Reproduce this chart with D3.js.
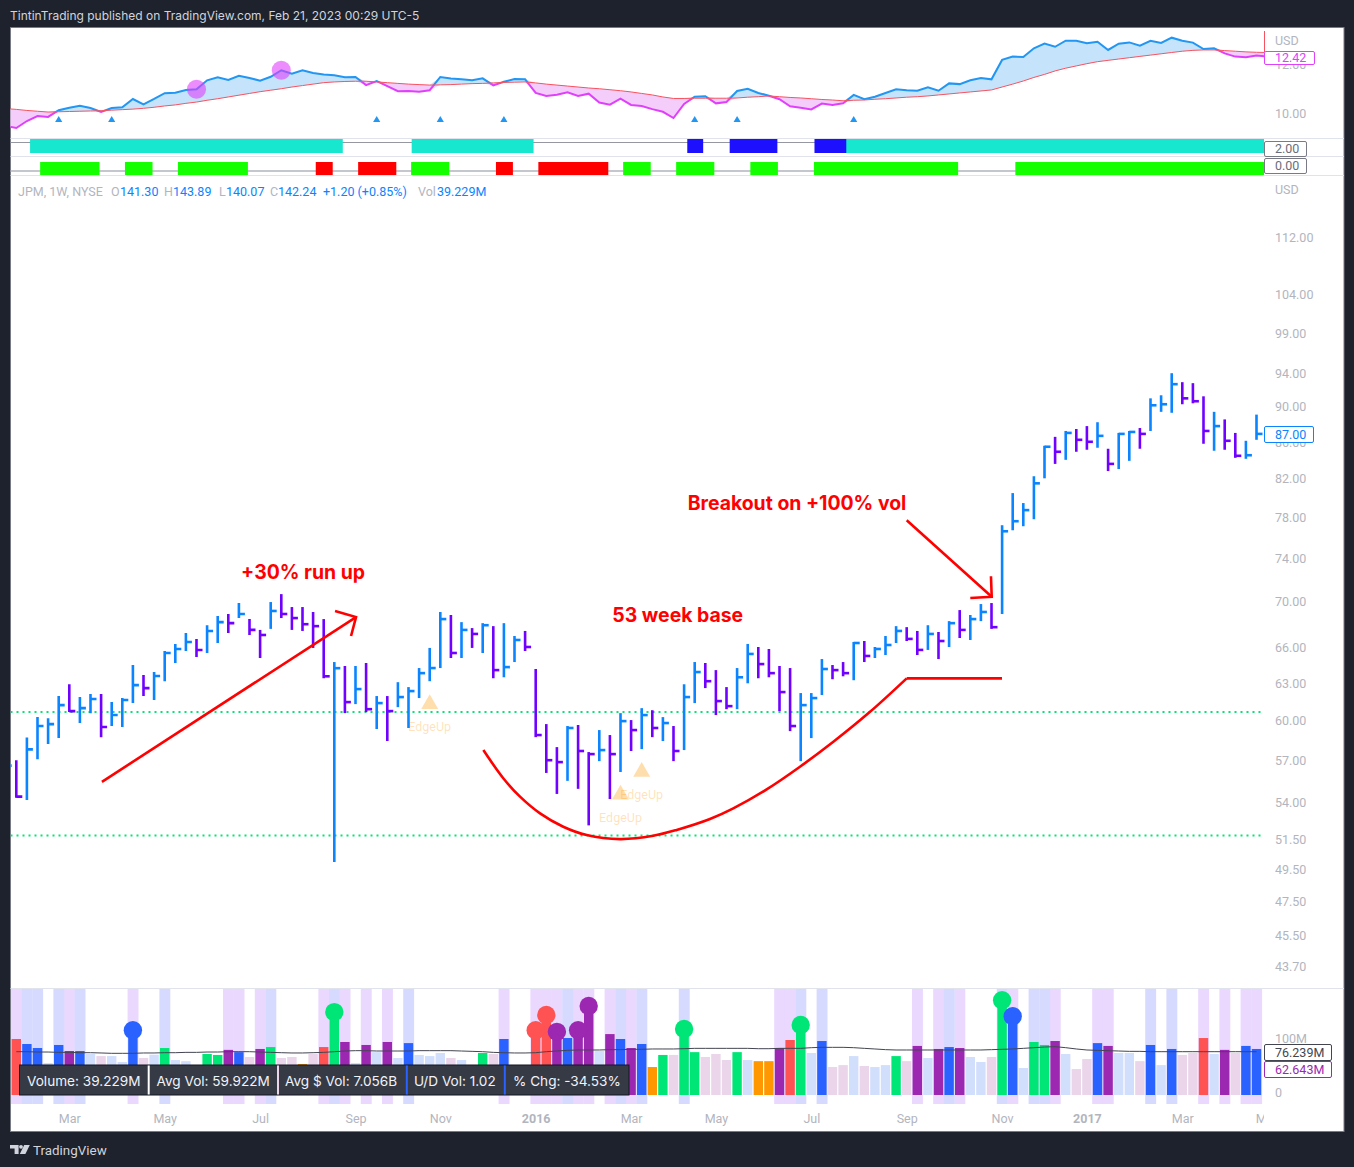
<!DOCTYPE html>
<html>
<head>
<meta charset="utf-8">
<script src="https://cdn.jsdelivr.net/npm/d3@7"></script>
<style>
  html, body { margin: 0; padding: 0; background: #1e222d; }
  svg { display: block; }
  text { font-family: Roboto, "Liberation Sans", sans-serif; }
  .axis .domain { display: none; }
  .axis line { display: none; }
  .axis text { fill: #b2b5be; font-size: 12.5px; font-family: Roboto, sans-serif; }
</style>
</head>
<body>
<svg id="chart" width="1354" height="1167"></svg>
<script>
// weekly bars, first entry is week -1 (clipped at the left edge)
const barHigh = [58.1, 57.0, 58.7, 60.26, 60.18, 61.92, 62.87, 61.84, 62.08, 62.08, 61.44, 61.76, 64.45, 63.62, 63.87, 65.63, 66.23, 67.17, 66.66, 67.85, 68.66, 68.84, 69.82, 68.39, 67.44, 69.91, 70.63, 69.46, 69.46, 69.02, 68.39, 64.7, 64.37, 64.37, 64.62, 61.92, 61.92, 63.04, 62.64, 64.2, 65.89, 69.02, 68.75, 68.12, 67.6, 68.03, 67.77, 68.03, 66.91, 67.35, 64.12, 59.72, 57.97, 59.57, 59.65, 57.6, 59.26, 58.88, 60.57, 60.03, 60.96, 60.8, 60.26, 59.57, 62.87, 64.7, 64.62, 64.03, 62.64, 64.2, 66.23, 65.97, 65.8, 64.37, 64.2, 62.16, 62.16, 64.95, 64.45, 64.7, 66.4, 66.48, 65.97, 66.91, 67.77, 67.68, 67.35, 67.85, 67.26, 68.21, 69.19, 68.75, 69.73, 69.82, 77.2, 80.47, 79.44, 82.24, 85.54, 86.53, 87.19, 87.41, 87.74, 88.18, 85.21, 86.97, 87.19, 87.52, 90.94, 91.3, 93.94, 92.86, 92.74, 91.18, 89.37, 88.5, 86.97, 86.09, 89.05];
const barLow = [55.57, 54.3, 54.14, 57.07, 58.2, 58.65, 60.65, 59.8, 60.57, 58.72, 59.57, 59.49, 61.36, 61.92, 61.6, 63.12, 64.62, 65.63, 65.12, 65.46, 66.31, 67.17, 68.48, 67.0, 65.04, 67.53, 68.48, 67.44, 67.35, 65.89, 63.36, 49.98, 60.57, 61.28, 60.65, 59.34, 58.43, 61.04, 59.42, 61.76, 63.12, 64.2, 65.04, 65.04, 65.89, 65.46, 63.36, 63.44, 64.7, 65.63, 58.72, 56.07, 54.57, 55.5, 54.93, 52.4, 56.93, 54.21, 56.14, 57.68, 57.82, 58.72, 58.43, 56.93, 57.75, 61.36, 62.56, 60.42, 60.88, 60.88, 62.95, 63.36, 63.44, 60.73, 59.18, 56.93, 58.65, 62.0, 63.28, 63.52, 63.2, 64.7, 65.04, 65.29, 66.31, 66.48, 65.29, 65.72, 64.95, 65.97, 66.74, 66.57, 68.21, 67.53, 68.84, 76.7, 77.1, 77.8, 82.02, 83.56, 84.0, 84.88, 85.1, 85.32, 82.79, 83.01, 83.89, 85.21, 87.19, 89.37, 89.26, 90.25, 90.36, 85.76, 84.99, 85.1, 84.22, 84.11, 86.2];
const barClose = [56.6, 54.38, 57.8, 59.57, 59.72, 61.2, 60.73, 60.96, 61.68, 59.49, 60.42, 61.6, 62.8, 62.56, 63.54, 65.46, 65.8, 66.4, 65.72, 67.35, 68.12, 68.03, 68.84, 67.44, 67.0, 69.11, 68.84, 68.48, 67.94, 67.77, 63.52, 64.19, 61.44, 62.48, 60.88, 61.36, 60.73, 61.84, 62.32, 63.78, 64.2, 68.39, 65.46, 67.44, 67.09, 67.85, 64.03, 64.28, 66.57, 65.97, 58.88, 57.0, 56.86, 59.42, 57.68, 57.45, 57.75, 57.45, 59.95, 59.26, 60.42, 59.42, 59.8, 57.68, 61.84, 63.87, 63.12, 61.52, 61.12, 63.44, 65.38, 64.53, 63.78, 62.24, 59.57, 61.2, 61.76, 64.12, 64.03, 63.78, 66.31, 65.21, 65.8, 66.14, 67.35, 66.66, 65.72, 67.09, 66.48, 68.03, 67.44, 68.39, 69.02, 67.68, 76.6, 77.6, 78.72, 81.49, 85.43, 84.88, 86.97, 86.2, 85.98, 86.64, 83.56, 86.86, 87.08, 86.86, 90.13, 90.25, 92.62, 90.94, 90.6, 87.19, 87.74, 86.09, 84.44, 84.5, 86.86];

const priceTicks = [112, 104, 99, 94, 90, 86, 82, 78, 74, 70, 66, 63, 60, 57, 54, 51.5, 49.5, 47.5, 45.5, 43.7];
const supportLevels = [60.65, 51.72];

// top indicator, first entry is week -1, last one runs off the right edge
const rsLine = [9.6, 9.53, 9.78, 9.96, 9.93, 10.18, 10.27, 10.35, 10.26, 10.11, 10.26, 10.29, 10.61, 10.4, 10.61, 10.84, 10.86, 10.97, 11.0, 11.37, 11.5, 11.38, 11.56, 11.47, 11.35, 11.52, 11.8, 11.65, 11.8, 11.68, 11.62, 11.58, 11.5, 11.51, 11.17, 11.34, 11.13, 10.92, 10.93, 10.9, 10.96, 11.51, 11.45, 11.41, 11.37, 11.45, 11.16, 11.31, 11.42, 11.41, 10.85, 10.73, 10.78, 10.88, 10.73, 10.82, 10.47, 10.39, 10.62, 10.38, 10.34, 10.22, 10.12, 9.89, 10.42, 10.7, 10.72, 10.44, 10.49, 10.93, 11.02, 10.85, 10.74, 10.6, 10.33, 10.27, 10.21, 10.43, 10.38, 10.44, 10.77, 10.6, 10.7, 10.85, 11.0, 10.96, 10.94, 11.08, 10.94, 11.24, 11.21, 11.37, 11.47, 11.41, 12.26, 12.41, 12.39, 12.8, 13.02, 12.87, 13.16, 13.16, 13.04, 13.11, 12.72, 13.02, 13.08, 12.92, 13.16, 13.05, 13.31, 13.16, 13.07, 12.76, 12.8, 12.56, 12.41, 12.38, 12.46, 12.42];
const rsAverage = [10.24, 10.21, 10.17, 10.14, 10.11, 10.12, 10.13, 10.14, 10.15, 10.16, 10.18, 10.2, 10.22, 10.25, 10.29, 10.34, 10.38, 10.44, 10.49, 10.56, 10.62, 10.69, 10.76, 10.83, 10.9, 10.96, 11.02, 11.09, 11.15, 11.21, 11.27, 11.3, 11.32, 11.33, 11.33, 11.3, 11.27, 11.24, 11.21, 11.19, 11.17, 11.18, 11.19, 11.21, 11.23, 11.24, 11.26, 11.28, 11.29, 11.3, 11.26, 11.21, 11.17, 11.13, 11.09, 11.05, 11.02, 10.98, 10.94, 10.89, 10.83, 10.77, 10.69, 10.63, 10.63, 10.64, 10.64, 10.64, 10.64, 10.65, 10.68, 10.7, 10.73, 10.7, 10.67, 10.65, 10.62, 10.59, 10.57, 10.54, 10.56, 10.57, 10.6, 10.62, 10.65, 10.68, 10.7, 10.73, 10.77, 10.81, 10.85, 10.89, 10.93, 10.97, 11.09, 11.21, 11.34, 11.49, 11.62, 11.77, 11.89, 11.99, 12.09, 12.18, 12.24, 12.3, 12.36, 12.42, 12.48, 12.54, 12.6, 12.66, 12.7, 12.72, 12.72, 12.69, 12.66, 12.63, 12.61, 12.6];
const rsHighWeeks = [17, 25];
const pocketWeeks = [4, 9, 34, 40, 46, 64, 68, 79];

// strips, [first week, last week]
const tealSpans = [[2, 31], [38, 49], [79, 118]];
const blueSpans = [[64, 65], [68, 72], [76, 79]];
const greenSpans = [[3, 8], [11, 13], [16, 22], [38, 41], [58, 60], [63, 66], [70, 72], [76, 89], [95, 118]];
const redSpans = [[29, 30], [33, 36], [46, 47], [50, 56]];

// volume in millions, starts at week 0
const volume = [99.3, 90.4, 83.3, 56.7, 88.7, 78, 78, 72.7, 69, 69, 58.5, 115, 65.6, 71.5, 83.3, 62, 60, 45, 72.7, 71, 80, 76, 67.4, 81.6, 85, 65.6, 67.4, 55, 72.7, 85, 147, 94, 56.7, 88.7, 76, 94, 65.6, 92, 71, 69, 74.5, 65.6, 62, 45, 74.5, 72.7, 99.3, 45, 45, 115, 142, 112, 101, 115, 158, 78, 108, 99.3, 83.3, 90.4, 49.6, 71, 71, 117, 76, 67.4, 72.7, 62, 76, 62, 60, 60, 83.3, 97.5, 124, 74.5, 95.7, 49.6, 53, 69, 51.4, 49.6, 53, 69, 60, 87, 65.6, 81.6, 85, 83.3, 67.4, 58.5, 67.4, 168, 139.5, 47.9, 94, 88.7, 95.7, 72.7, 46, 63.8, 92, 87, 74.5, 74.5, 60, 88.7, 53, 81.6, 71, 74.5, 101, 72.7, 80, 74.5, 87, 81.6];
// r red, b blue, g green, p purple, o orange, l light blue, m light purple
const volumeKind = ("rbblbpblml" + "lbmlglllgg" + "pbmpgmmomr" + "gplplplbll" + "lmlmgmbllr" + "rpbpplpbpb" + "ogmggmmmgl" + "ooprglbmml" + "mllgmplpbp" + "llmgblggpl" + "mmbpllmblb" + "mmrlpmbb").split("");
const volumeAverage = [76.8, 76.8, 76.2, 76.2, 75.6, 75.6, 75, 75, 74.5, 73.9, 73.9, 73.9, 74.5, 74.5, 75, 75, 75.6, 75.6, 76.2, 76.2, 76.8, 76.8, 76.8, 76.2, 75.6, 75, 74.5, 74.5, 75, 75.6, 76.8, 78, 78.6, 78.6, 78, 78, 78, 78, 78.6, 78.6, 78.6, 78.6, 78, 77.4, 76.8, 75.6, 75, 74.5, 74.5, 75, 76.8, 78, 79.2, 79.8, 79.8, 79.8, 80.4, 80.4, 81, 81, 81.6, 81.6, 81.6, 82.1, 82.7, 82.7, 82.7, 82.7, 82.7, 82.7, 82.1, 82.1, 82.7, 82.7, 82.7, 83.9, 84.5, 84.5, 84.5, 83.9, 82.7, 81.6, 80.4, 79.8, 79.8, 79.8, 79.8, 79.8, 79.8, 79.8, 79.8, 79.8, 80.4, 81, 81.6, 82.7, 83.9, 85.1, 85.7, 83.9, 81.6, 79.8, 79.2, 78.6, 78, 77.4, 77.4, 76.8, 76.8, 76.8, 76.8, 76.8, 76.8, 76.8, 76.8, 76.8, 76.8, 76.8];
const purpleWeeks = [0, 5, 11, 20, 21, 23, 29, 31, 33, 35, 46, 49, 50, 51, 53, 54, 56, 58, 72, 73, 85, 87, 89, 94, 98, 102, 103, 112, 114, 116, 117];
const blueWeeks = [1, 2, 4, 6, 14, 24, 30, 37, 52, 57, 59, 63, 74, 76, 88, 93, 96, 97, 107, 109];
const volumeTicks = [100, 0];

const monthWeeks = [5, 14, 23, 32, 40, 49, 58, 66, 75, 84, 93, 101, 110, 118];
const monthLabels = ["Mar", "May", "Jul", "Sep", "Nov", "2016", "Mar", "May", "Jul", "Sep", "Nov", "2017", "Mar", "May"];

// drawn lines on the chart, [week, price]
const runUpLine = [[8.08, 55.43], [32.05, 68.57]];
const runUpHead = [[30.07, 69.11], [32.05, 68.57], [31.58, 66.91]];
const breakoutLine = [[84, 77.7], [92.02, 70.39]];
const breakoutHead = [[90, 70.27], [92.02, 70.39], [91.95, 72.28]];
const cupLine = [[44.06, 57.75], [45.94, 55.69], [47.52, 54.38], [49.41, 53.22], [51.6, 52.31], [53.81, 51.75], [56.95, 51.48], [60.09, 51.7], [62.3, 52.09], [65.44, 52.83], [67.64, 53.56], [70.79, 54.89], [73.93, 56.52], [77.08, 58.37], [80.54, 60.67], [84, 63.35]];
const handleLine = [[84, 63.35], [92.99, 63.35]];
const edgeUpMarks = [[39, 61.28], [59, 56.15], [57, 54.52]];
const notes = [["+30% run up", 27.05, 72.02], ["53 week base", 62.4, 68.13], ["Breakout on +100% vol", 73.65, 78.73]];

const infoItems = ["Volume: 39.229M", "Avg Vol: 59.922M", "Avg $ Vol: 7.056B", "U/D Vol: 1.02", "% Chg: -34.53%"];

const blue = "#0a84ff", purple = "#7000ff", annot = "#ff0000";
const kindColor = { r: "#ff5252", b: "#2962ff", g: "#00e676", p: "#9c27b0", o: "#ff9800", l: "#d1dffd", m: "#ead5ea" };

const svg = d3.select("#chart");
const weeks = d3.range(-1, 118);
const rsWeeks = d3.range(-1, 119);

const x = d3.scaleLinear().domain([0, 117]).range([16.3, 1256.5]);
const y = d3.scaleLog().domain([43.7, 112]).range([966, 237]);
const yTop = d3.scaleLog().domain([10, 12]).range([115, 65.7]);
const yVol = d3.scaleLinear().domain([0, 100]).range([1095, 1038.6]);

const defs = svg.append("defs");
defs.append("clipPath").attr("id", "plot")
  .append("rect").attr("x", 10.5).attr("y", 27).attr("width", 1253.5).attr("height", 1105);

// frame
svg.append("rect").attr("x", 10.5).attr("y", 27.5).attr("width", 1333.5).attr("height", 1104)
  .attr("fill", "#fff").attr("stroke", "#787b86");
svg.append("text").attr("x", 10).attr("y", 19.5).attr("fill", "#d1d4dc").style("font-size", "12px").style("font-family", "Inter, sans-serif")
  .text("TintinTrading published on TradingView.com, Feb 21, 2023 00:29 UTC-5");

// top indicator
const gTop = svg.append("g").attr("clip-path", "url(#plot)");
const topRows = rsWeeks.map((w, i) => ({ w, v: rsLine[i], m: rsAverage[i] }));
gTop.append("path").datum(topRows).attr("fill", "#c5e3fa")
  .attr("d", d3.area().x(d => x(d.w)).y0(d => yTop(d.m)).y1(d => yTop(Math.max(d.v, d.m))));
gTop.append("path").datum(topRows).attr("fill", "#f5cdfb")
  .attr("d", d3.area().x(d => x(d.w)).y0(d => yTop(d.m)).y1(d => yTop(Math.min(d.v, d.m))));

defs.append("clipPath").attr("id", "above").append("path").datum(topRows)
  .attr("d", d3.area().x(d => x(d.w)).y0(0).y1(d => yTop(d.m)));
defs.append("clipPath").attr("id", "below").append("path").datum(topRows)
  .attr("d", d3.area().x(d => x(d.w)).y0(138).y1(d => yTop(d.m)));
const rsPath = d3.line().x(d => x(d.w)).y(d => yTop(d.v));
gTop.append("g").attr("clip-path", "url(#above)").append("path").datum(topRows)
  .attr("fill", "none").attr("stroke", "#2196f3").attr("stroke-width", 2).attr("d", rsPath);
gTop.append("g").attr("clip-path", "url(#below)").append("path").datum(topRows)
  .attr("fill", "none").attr("stroke", "#e040fb").attr("stroke-width", 2).attr("d", rsPath);
gTop.append("path").datum(topRows).attr("fill", "none").attr("stroke", "#f7525f").attr("stroke-width", 1)
  .attr("d", d3.line().x(d => x(d.w)).y(d => yTop(d.m)));

gTop.selectAll(".rshigh").data(rsHighWeeks).join("circle").attr("class", "rshigh")
  .attr("cx", w => x(w)).attr("cy", w => yTop(rsLine[w + 1])).attr("r", 9.5)
  .attr("fill", "#e040fb").attr("fill-opacity", 0.6);
gTop.selectAll(".pocket").data(pocketWeeks).join("path").attr("class", "pocket")
  .attr("transform", w => `translate(${x(w)},120)`)
  .attr("d", d3.symbol(d3.symbolTriangle, 22)).attr("fill", "#2196f3");

// axis labels of the indicator
svg.append("g").attr("class", "axis").attr("transform", "translate(1264,0)")
  .call(d3.axisRight(yTop).tickValues([12, 10]).tickFormat(d3.format(".2f")).tickSize(0).tickPadding(11))
  .selectAll("text").attr("dy", "0.22em");
svg.append("line").attr("x1", 1264.5).attr("x2", 1264.5).attr("y1", 31).attr("y2", 52).attr("stroke", "#f7525f");
svg.append("text").attr("x", 1275).attr("y", 45).attr("fill", "#b2b5be").style("font-size", "12.5px").text("USD");
valueBox(1264, 51, 50, 13, "#e040fb", "12.42", "#e040fb");

// strips
[138.5, 156.5, 175.5].forEach(py => {
  svg.append("line").attr("x1", 10.5).attr("x2", 1344).attr("y1", py).attr("y2", py).attr("stroke", "#e0e3eb");
});
svg.append("line").attr("x1", 10.5).attr("x2", 1264).attr("y1", 142.5).attr("y2", 142.5).attr("stroke", "#9598a1");
svg.append("line").attr("x1", 10.5).attr("x2", 1264).attr("y1", 171).attr("y2", 171).attr("stroke", "#b2b5be").attr("stroke-width", 1.5);

const gStrips = svg.append("g").attr("clip-path", "url(#plot)");
function drawSpans(spans, fill, top, h, startShift, endShift) {
  gStrips.append("g").selectAll("rect").data(spans).join("rect")
    .attr("x", d => x(d[0] - startShift)).attr("width", d => x(d[1] - endShift) - x(d[0] - startShift))
    .attr("y", top).attr("height", h).attr("fill", fill);
}
drawSpans(blueSpans, "#1c10ff", 139, 14, 0.7, 0.2);
drawSpans(tealSpans, "#18e7cf", 139, 14, 0.7, 0.2);
drawSpans(greenSpans, "#14ff00", 162, 13, 0.75, 0.15);
drawSpans(redSpans, "#ff0000", 162, 13, 0.75, 0.15);
valueBox(1264, 141, 42, 15, "#787b86", "2.00", "#6a6d78");
valueBox(1264, 158, 42, 15, "#787b86", "0.00", "#6a6d78");

// legend
const legend = svg.append("text").attr("y", 196).style("font-size", "12.5px");
[["JPM, 1W, NYSE", 18, "#b2b5be"], ["O", 111, "#b2b5be"], ["141.30", 120, blue], ["H", 164, "#b2b5be"], ["143.89", 173, blue],
 ["L", 219, "#b2b5be"], ["140.07", 226, blue], ["C", 270, "#b2b5be"], ["142.24", 278, blue], ["+1.20 (+0.85%)", 323, blue],
 ["Vol", 418, "#b2b5be"], ["39.229M", 437, blue]].forEach(d => {
  legend.append("tspan").attr("x", d[1]).attr("fill", d[2]).text(d[0]);
});

// price pane
svg.append("text").attr("x", 1275).attr("y", 194).attr("fill", "#b2b5be").style("font-size", "12.5px").text("USD");
svg.append("g").attr("class", "axis").attr("transform", "translate(1264,0)")
  .call(d3.axisRight(y).tickValues(priceTicks).tickFormat(d3.format(".2f")).tickSize(0).tickPadding(11))
  .selectAll("text").attr("dy", "0.36em");

const gPrice = svg.append("g").attr("clip-path", "url(#plot)");
gPrice.selectAll(".support").data(supportLevels).join("line").attr("class", "support")
  .attr("x1", 10.5).attr("x2", 1263).attr("y1", d => y(d)).attr("y2", d => y(d))
  .attr("stroke", "#00e676").attr("stroke-width", 2).attr("stroke-dasharray", "2 4");

gPrice.selectAll(".edgemark").data(edgeUpMarks).join("path").attr("class", "edgemark")
  .attr("transform", d => `translate(${x(d[0])},${y(d[1])})`)
  .attr("d", d3.symbol(d3.symbolTriangle, 125)).attr("fill", "#ff9800").attr("fill-opacity", 0.32);
gPrice.selectAll(".edgetext").data(edgeUpMarks).join("text").attr("class", "edgetext")
  .attr("x", d => x(d[0])).attr("y", d => y(d[1]) + 27).attr("text-anchor", "middle")
  .attr("fill", "#ff9800").attr("fill-opacity", 0.28).style("font-size", "12.5px").text("EdgeUp");

const barRows = weeks.map((w, i) => ({
  w, high: barHigh[i], low: barLow[i], close: barClose[i],
  up: i === 0 || barClose[i] >= barClose[i - 1]
}));
const bars = gPrice.selectAll(".bar").data(barRows).join("g").attr("class", "bar")
  .attr("stroke", d => d.up ? blue : purple).attr("stroke-width", 2.6);
bars.append("line").attr("x1", d => x(d.w)).attr("x2", d => x(d.w)).attr("y1", d => y(d.high)).attr("y2", d => y(d.low));
bars.append("line").attr("x1", d => x(d.w)).attr("x2", d => x(d.w) + 6).attr("y1", d => y(d.close)).attr("y2", d => y(d.close));

// hand drawn lines
const drawn = d3.line().x(d => x(d[0])).y(d => y(d[1]));
const gDrawn = svg.append("g").attr("fill", "none").attr("stroke", annot).attr("stroke-width", 2.6);
[runUpLine, runUpHead, breakoutLine, breakoutHead, handleLine].forEach(d => {
  gDrawn.append("path").attr("d", drawn(d));
});
gDrawn.append("path").attr("d", d3.line().x(d => x(d[0])).y(d => y(d[1])).curve(d3.curveCatmullRom.alpha(0.5))(cupLine));

svg.selectAll(".note").data(notes).join("text").attr("class", "note")
  .attr("x", d => x(d[1])).attr("y", d => y(d[2])).attr("text-anchor", "middle")
  .attr("fill", annot).style("font-size", "19.4px").style("font-weight", 700)
  .style("font-family", "Inter, Roboto, sans-serif").text(d => d[0]);

valueBox(1264, 426, 49, 16, blue, "87.00", blue);

// volume pane
svg.append("line").attr("x1", 10.5).attr("x2", 1344).attr("y1", 988.5).attr("y2", 988.5).attr("stroke", "#e0e3eb");
const gVol = svg.append("g").attr("clip-path", "url(#plot)");
const step = x(1) - x(0);
gVol.selectAll(".bgp").data(purpleWeeks).join("rect").attr("class", "bgp")
  .attr("x", w => x(w) - step / 2).attr("width", step + 0.3).attr("y", 989).attr("height", 115).attr("fill", "#ead8ff");
gVol.selectAll(".bgb").data(blueWeeks).join("rect").attr("class", "bgb")
  .attr("x", w => x(w) - step / 2).attr("width", step + 0.3).attr("y", 989).attr("height", 115).attr("fill", "#d6daff");

const volRows = volume.map((v, i) => ({ w: i, v, kind: volumeKind[i] }));
gVol.selectAll(".vol").data(volRows).join("rect").attr("class", "vol")
  .attr("x", d => x(d.w) - 4.7).attr("width", 9.4)
  .attr("y", d => yVol(d.v)).attr("height", d => yVol(0) - yVol(d.v)).attr("fill", d => kindColor[d.kind]);
gVol.selectAll(".pop").data(volRows.filter(d => d.v > 110)).join("circle").attr("class", "pop")
  .attr("cx", d => x(d.w)).attr("cy", d => yVol(d.v)).attr("r", 9.2).attr("fill", d => kindColor[d.kind]);

gVol.append("path").datum(volumeAverage).attr("fill", "none").attr("stroke", "#434651").attr("stroke-width", 1)
  .attr("d", d3.line().x((d, i) => x(i)).y(d => yVol(d)));

svg.append("g").attr("class", "axis").attr("transform", "translate(1264,0)")
  .call(d3.axisRight(yVol).tickValues(volumeTicks).tickFormat(d => d ? d + "M" : "0").tickSize(0).tickPadding(11))
  .selectAll("text").attr("dy", d => d ? "0.32em" : "0.15em");
valueBox(1264, 1044, 67, 16, "#434651", "76.239M", "#434651");
valueBox(1264, 1061, 67, 16, "#9c27b0", "62.643M", "#9c27b0");

// stats box
svg.append("rect").attr("x", 19.5).attr("y", 1065).attr("width", 609.5).attr("height", 30)
  .attr("fill", "#363a45").attr("stroke", "#131722");
[[148.7, "#fff"], [278, "#ead5ea"], [406.8, "#2962ff"], [504.8, "#2962ff"]].forEach(d => {
  svg.append("line").attr("x1", d[0]).attr("x2", d[0]).attr("y1", 1065.5).attr("y2", 1094.5)
    .attr("stroke", d[1]).attr("stroke-width", 2);
});
[27, 156.5, 285, 414, 513].forEach((px, i) => {
  svg.append("text").attr("x", px).attr("y", 1085.5).attr("fill", "#f0f3fa")
    .style("font-size", "13.6px").style("font-family", "Inter, sans-serif").text(infoItems[i]);
});

// time axis
const gTime = svg.append("g").attr("clip-path", "url(#plot)");
gTime.append("g").attr("class", "axis").attr("transform", "translate(0,1105)")
  .call(d3.axisBottom(x).tickValues(monthWeeks).tickFormat((d, i) => monthLabels[i]).tickSize(0).tickPadding(9))
  .selectAll("text").style("font-weight", d => d === 49 || d === 101 ? 700 : 400);

// footer
const logo = svg.append("g").attr("fill", "#d1d4dc");
logo.append("path").attr("d", "M10 1145h8.6v9h-4v-5.6H10z");
logo.append("circle").attr("cx", 21).attr("cy", 1146.8).attr("r", 1.9);
logo.append("path").attr("d", "M24.2 1145h5.6l-4.4 9h-5.6z");
svg.append("text").attr("x", 33).attr("y", 1155).attr("fill", "#d1d4dc").style("font-size", "13.4px").text("TradingView");

function valueBox(bx, by, bw, bh, stroke, label, color) {
  const g = svg.append("g");
  g.append("rect").attr("x", bx + 0.5).attr("y", by + 0.5).attr("width", bw).attr("height", bh)
    .attr("rx", 1.5).attr("fill", "#fff").attr("stroke", stroke);
  g.append("text").attr("x", bx + 11).attr("y", by + bh / 2 + 4.5).attr("fill", color)
    .style("font-size", "12.5px").text(label);
}
</script>
</body>
</html>
